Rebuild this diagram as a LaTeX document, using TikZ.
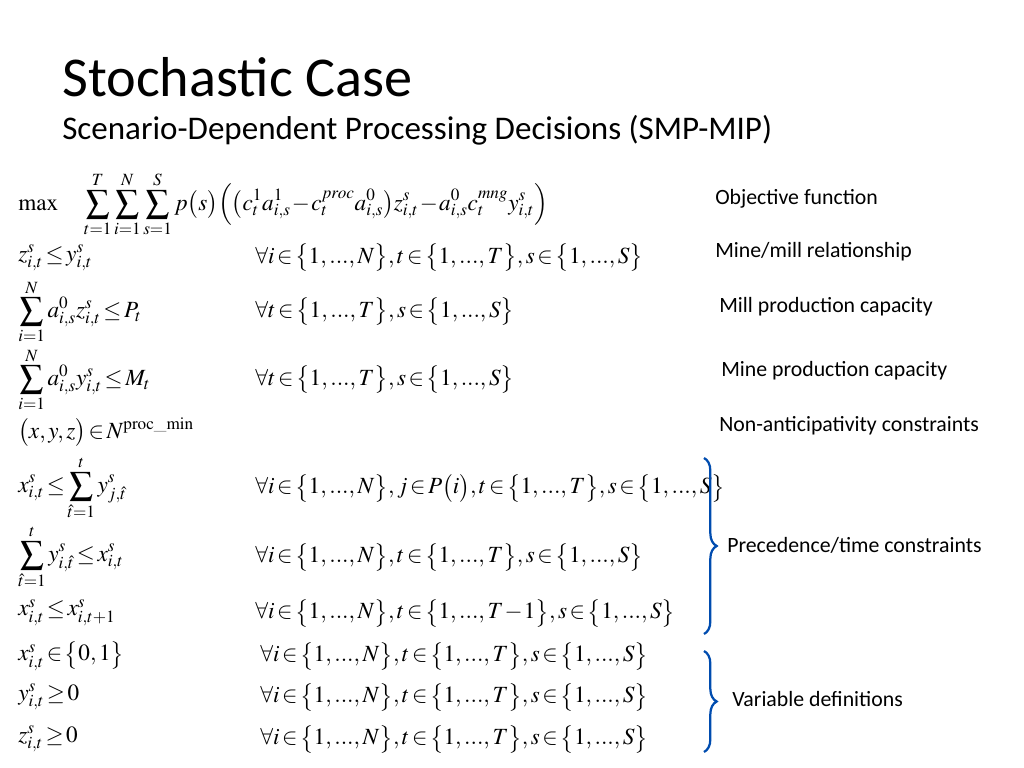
\documentclass[tikz,border=0pt]{standalone}
\usepackage{amsmath,amssymb}
\usepackage{mathptmx}
\usepackage{fontspec}
\setsansfont{Carlito}
\usetikzlibrary{decorations.pathreplacing}
\medmuskip=1mu plus 1mu
\thickmuskip=2mu plus 1mu
\begin{document}
\begin{tikzpicture}[x=0.025cm,y=-0.025cm]
\tikzset{eqn/.style={anchor=west,inner sep=0pt,font=\fontsize{16.5}{18}\selectfont},
  lbl/.style={anchor=west,inner sep=0pt,font=\sffamily\fontsize{15.5}{17}\selectfont},
  bracket/.style={draw=blue!55!black!70!cyan,line width=1.6pt,decorate,decoration={brace,amplitude=9pt}}}
\useasboundingbox (0,0) rectangle (1024,768);
\node (title) [anchor=west,inner sep=0pt,font=\sffamily\fontsize{40}{44}\selectfont] at (62,77) {Stochastic Case};
\node (sub) [anchor=west,inner sep=0pt,font=\sffamily\fontsize{23.5}{28}\selectfont] at (62,130) {Scenario-Dependent Processing Decisions (SMP-MIP)};
% model
\node (obj) [eqn] at (18,204) {$\displaystyle\max\quad \sum_{t=1}^{T}\sum_{i=1}^{N}\sum_{s=1}^{S} p\bigl(s\bigr)\Bigl(\bigl(c_t^1a_{i,s}^1-c_t^{proc}a_{i,s}^0\bigr)z_{i,t}^s-a_{i,s}^0c_t^{mng}y_{i,t}^s\Bigr)$};
\node (c1) [eqn] at (18,258) {$z_{i,t}^s\le y_{i,t}^s$};
\node (q1) [eqn] at (255,258) {$\forall i\in\bigl\{1,...,N\bigr\},t\in\bigl\{1,...,T\bigr\},s\in\bigl\{1,...,S\bigr\}$};
\node (c2) [eqn] at (18,312) {$\displaystyle\sum_{i=1}^{N}a_{i,s}^0z_{i,t}^s\le P_t$};
\node (q2) [eqn] at (255,312) {$\forall t\in\bigl\{1,...,T\bigr\},s\in\bigl\{1,...,S\bigr\}$};
\node (c3) [eqn] at (18,380) {$\displaystyle\sum_{i=1}^{N}a_{i,s}^0y_{i,t}^s\le M_t$};
\node (q3) [eqn] at (255,380) {$\forall t\in\bigl\{1,...,T\bigr\},s\in\bigl\{1,...,S\bigr\}$};
\node (c4) [eqn] at (18,432) {$\bigl(x,y,z\bigr)\in N^{\mathrm{proc\_min}}$};
\node (c5) [eqn] at (18,488) {$\displaystyle x_{i,t}^s\le\sum_{\hat t=1}^{t}y_{j,\hat t}^s$};
\node (q5) [eqn] at (255,488) {$\forall i\in\bigl\{1,...,N\bigr\},j\in P\bigl(i\bigr),t\in\bigl\{1,...,T\bigr\},s\in\bigl\{1,...,S\bigr\}$};
\node (c6) [eqn] at (18,557) {$\displaystyle\sum_{\hat t=1}^{t}y_{i,\hat t}^s\le x_{i,t}^s$};
\node (q6) [eqn] at (255,557) {$\forall i\in\bigl\{1,...,N\bigr\},t\in\bigl\{1,...,T\bigr\},s\in\bigl\{1,...,S\bigr\}$};
\node (c7) [eqn] at (18,613) {$x_{i,t}^s\le x_{i,t+1}^s$};
\node (q7) [eqn] at (255,613) {$\forall i\in\bigl\{1,...,N\bigr\},t\in\bigl\{1,...,T-1\bigr\},s\in\bigl\{1,...,S\bigr\}$};
\node (c8) [eqn] at (18,656) {$x_{i,t}^s\in\bigl\{0,1\bigr\}$};
\node (q8) [eqn] at (260,656) {$\forall i\in\bigl\{1,...,N\bigr\},t\in\bigl\{1,...,T\bigr\},s\in\bigl\{1,...,S\bigr\}$};
\node (c9) [eqn] at (18,697) {$y_{i,t}^s\ge0$};
\node (q9) [eqn] at (260,697) {$\forall i\in\bigl\{1,...,N\bigr\},t\in\bigl\{1,...,T\bigr\},s\in\bigl\{1,...,S\bigr\}$};
\node (c10) [eqn] at (18,739) {$z_{i,t}^s\ge0$};
\node (q10) [eqn] at (260,739) {$\forall i\in\bigl\{1,...,N\bigr\},t\in\bigl\{1,...,T\bigr\},s\in\bigl\{1,...,S\bigr\}$};
% labels
\node (lobj) [lbl] at (715,199) {Objective function};
\node (lmm) [lbl] at (715,252) {Mine/mill relationship};
\node (lmill) [lbl] at (719,307) {Mill production capacity};
\node (lmine) [lbl] at (721,371) {Mine production capacity};
\node (lna) [lbl] at (719,426) {Non-anticipativity constraints};
\node (lprec) [lbl] at (727,545) {Precedence/time constraints};
\node (lvar) [lbl] at (732,699) {Variable definitions};
\coordinate (b1t) at (704,458);
\coordinate (b1b) at (704,634);
\coordinate (b2t) at (704,651);
\coordinate (b2b) at (704,752);
\draw [bracket] (b1t) -- (b1b);
\draw [bracket] (b2t) -- (b2b);
\end{tikzpicture}
\end{document}
